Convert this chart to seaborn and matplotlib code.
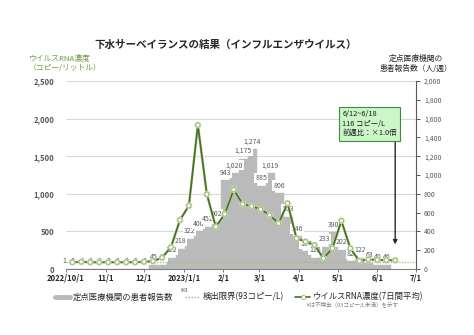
import numpy as np
import pandas as pd
import matplotlib
matplotlib.use("Agg")
import matplotlib.pyplot as plt
import matplotlib.dates as mdates
import matplotlib.patheffects as pe
from matplotlib.lines import Line2D
import seaborn as sns

# ---------------- data ----------------
report_week_start = pd.date_range("2022-09-26", "2023-06-05", freq="7D")
report_values = [1, 0, 1, 2, 2, 0, 3, 0, 5, 0,
                 45, 47, 122, 218, 322, 400, 452, 502, 943, 1020, 1175, 1274,
                 885, 1019, 806, 553, 346, 187, 115, 233, 390, 202, 82, 122,
                 63, 40, 46]

rna_dates = pd.date_range("2022-10-06", "2023-06-15", freq="7D")
rna_values = [90, 95, 90, 90, 90, 90, 90, 90, 95, 105, 150, 290,
              651, 842, 1915, 995, 560, 731, 1055, 862, 835, 794, 718, 608,
              874, 408, 363, 319, 142, 275, 642, 275, 106, 129, 120, 118, 116]

detection_limit = 93

tick_dates = pd.to_datetime(["2022-10-01", "2022-11-01", "2022-12-01", "2023-01-01",
                             "2023-02-01", "2023-03-01", "2023-04-01", "2023-05-01",
                             "2023-06-01", "2023-07-01"])
tick_labels = ["2022/10/1", "11/1", "12/1", "2023/1/1", "2/1", "3/1", "4/1",
               "5/1", "6/1", "7/1"]

title = "下水サーベイランスの結果（インフルエンザウイルス）"
left_title = "ウイルスRNA濃度\n（コピー/リットル）"
right_title = "定点医療機関の\n患者報告数（人/週）"
box_text = "6/12~6/18\n116 コピー/L\n前週比：×1.0倍"
legend_labels = ["定点医療機関の患者報告数", "検出限界(93コピー/L)", "ウイルスRNA濃度(7日間平均)"]

# ---------------- style ----------------
sns.set_style("white")
plt.rcParams["font.family"] = ["Noto Sans CJK JP", "DejaVu Sans"]

GREEN = "#466f27"
BAR = "#bababa"

fig = plt.figure(figsize=(4.74, 3.35), dpi=100)
ax = fig.add_axes([0.139, 0.197, 0.738, 0.561])
ax2 = ax.twinx()

# bars (right axis) via seaborn histplot with weekly bins
edges = [float(e) for e in mdates.date2num(
    list(report_week_start) + [report_week_start[-1] + pd.Timedelta(days=7)])]
centers = mdates.date2num(report_week_start + pd.Timedelta(days=3.5))
bar_df = pd.DataFrame({"c": centers, "w": report_values})
sns.histplot(data=bar_df, x="c", weights="w", bins=edges, ax=ax, color=BAR,
             alpha=1, edgecolor=BAR, linewidth=0.3, zorder=2)

for v in range(400, 2001, 400):
    ax.axhline(v, color="#d9d9d9", lw=0.8, zorder=0)

for c, v in zip(centers, report_values):
    ax.text(c, v + 40, f"{v:,}", ha="center", va="bottom", fontsize=5,
            color="#595959", zorder=3,
            bbox=dict(boxstyle="square,pad=0.15", fc="white", ec="none"))

ax.set_ylim(0, 2000)
ax.set_yticks(np.arange(0, 2001, 200))
ax.set_yticklabels([f"{v:,}" for v in range(0, 2001, 200)], fontsize=5, color="#595959")
ax.yaxis.tick_right()
ax.set_ylabel("")
ax.set_xlabel("")
ax.tick_params(axis="y", which="both", right=True, left=False, direction="out",
               length=3, width=0.7, color="#595959", pad=3)

# line (left axis)
rna_x = mdates.date2num(rna_dates)
ax2.axhline(detection_limit, color="#9dbb7a", lw=0.9, ls=(0, (1, 1.2)), zorder=1)
line_df = pd.DataFrame({"x": rna_x, "y": rna_values})
sns.lineplot(data=line_df, x="x", y="y", ax=ax2, color=GREEN, lw=1.25, marker="o",
             markersize=3.0, markerfacecolor="white", markeredgecolor="#8fb56a",
             markeredgewidth=0.6, zorder=4)
ax2.lines[-1].set_path_effects([pe.Stroke(linewidth=1.9, foreground="#c3d9ab"), pe.Normal()])
ax2.set_ylim(0, 2500)
ax2.set_yticks(np.arange(0, 2501, 500))
ax2.set_yticklabels([f"{v:,}" for v in range(0, 2501, 500)], fontsize=5.5,
                    color="#595959", fontweight="bold")
ax2.yaxis.tick_left()
ax2.yaxis.set_label_position("left")
ax2.set_ylabel("")
ax2.set_xlabel("")
ax2.tick_params(axis="y", left=False, right=False, pad=5)

xmin = mdates.date2num(pd.Timestamp("2022-10-01"))
xmax = mdates.date2num(pd.Timestamp("2023-07-01"))
ax.set_xlim(xmin, xmax)
ax.set_xticks(mdates.date2num(tick_dates))
ax.set_xticklabels(tick_labels, fontsize=5.5, fontweight="bold", color="#262626")
ax.tick_params(axis="x", bottom=True, direction="out", length=2.5, width=0.7,
               color="#7f7f7f", pad=1)

for a in (ax, ax2):
    for s in ("top", "left", "right", "bottom"):
        a.spines[s].set_visible(False)
ax.spines["bottom"].set_visible(True)
ax.spines["bottom"].set_color("#7f7f7f")
ax.spines["bottom"].set_linewidth(0.8)
ax.spines["right"].set_visible(True)
ax.spines["right"].set_color("#595959")
ax.spines["right"].set_linewidth(0.8)

# annotation box and arrow
ax2.text(0.79, 0.845, box_text, transform=ax2.transAxes, ha="left", va="top",
         fontsize=5.3, color="#1a1a1a", linespacing=1.25, zorder=6,
         bbox=dict(boxstyle="square,pad=0.45", fc="#ccf5c8", ec="#3d8f3d", lw=0.8))
ax2.annotate("", xy=(rna_x[-1], 290), xytext=(rna_x[-1], 1740),
             arrowprops=dict(arrowstyle="-|>", color="#262626", lw=1.0,
                             mutation_scale=6), zorder=5)

# titles
fig.text(0.476, 0.866, title, ha="center", va="center", fontsize=7.6, fontweight="bold")
fig.text(0.061, 0.813, left_title, ha="left", va="center", fontsize=5.6,
         color="#6e9a46", linespacing=1.35)
fig.text(0.877, 0.81, right_title, ha="center", va="center", fontsize=5.6,
         color="#262626", linespacing=1.35)

# legend
handles = [Line2D([], [], color=BAR, lw=3.5),
           Line2D([], [], color="#a6a6a6", lw=1, ls=(0, (1, 1.2))),
           Line2D([], [], color=GREEN, lw=1.2, marker="o", ms=3.0, mfc="white",
                  mec="#8fb56a", mew=0.6)]
fig.legend(handles, legend_labels, loc="center", bbox_to_anchor=(0.505, 1 - 297 / 335),
           ncol=3, frameon=False, fontsize=6, handlelength=1.8, handletextpad=0.3,
           columnspacing=1.4)
fig.text(0.378, 1 - 290 / 335, "※3", fontsize=4, color="#404040", ha="left", va="center")
fig.text(0.644, 1 - 305 / 335, "✕は不検出（93コピー/L未満）を示す", fontsize=4,
         color="#7f7f7f", ha="left", va="center")

fig.savefig("out.png", dpi=100)
